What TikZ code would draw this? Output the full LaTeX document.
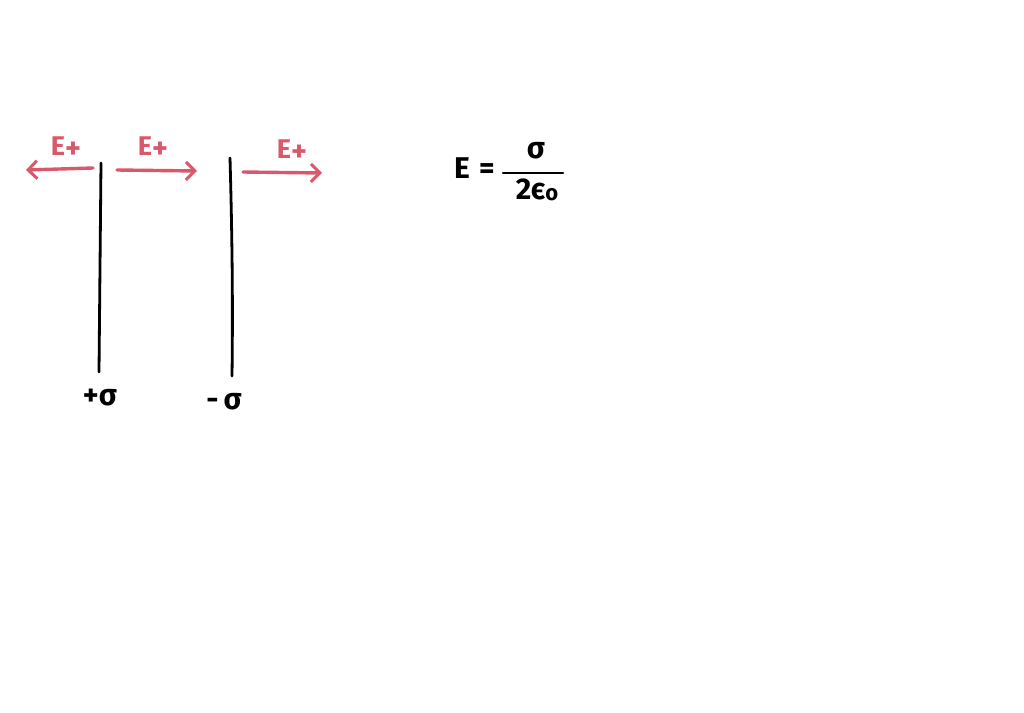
\documentclass[tikz,border=0pt]{standalone}
\usepackage{fontspec}
\setmainfont{Fira Sans}
\usetikzlibrary{arrows.meta}
\definecolor{fieldred}{RGB}{217,88,108}
\tikzset{
  plate/.style={line width=2.8pt, line cap=round, black},
  field/.style={line width=3.4pt, line cap=round, fieldred, -{Straight Barb[length=9pt,width=18pt,line width=3pt]}},
  flabel/.style={fieldred, font=\fontsize{27}{30}\selectfont\bfseries, inner sep=0pt},
  blabel/.style={black, font=\fontsize{30}{32}\selectfont\bfseries, inner sep=0pt}
}
\begin{document}
\begin{tikzpicture}[x=1pt,y=-1pt]
\useasboundingbox[fill=white] (0,0) rectangle (1024,712);
% plates
\coordinate (p1t) at (101,163); \coordinate (p1b) at (99,372);
\coordinate (p2t) at (230,158); \coordinate (p2b) at (232,376);
\draw[plate] (p1t) -- (p1b);
\draw[plate] (p2t) .. controls (232,230) and (233,300) .. (p2b);
% field arrows
\coordinate (a1s) at (93,168); \coordinate (a1e) at (26,170);
\coordinate (a2s) at (117,170); \coordinate (a2e) at (197,171);
\coordinate (a3s) at (243,172); \coordinate (a3e) at (322,173);
\draw[field] (a1s) -- (a1e);
\draw[field] (a2s) -- (a2e);
\draw[field] (a3s) -- (a3e);
\node[flabel] (l1) at (66,148) {E\raisebox{-0.12em}{\fontsize{30}{32}\selectfont +}};
\node[flabel] (l2) at (153,148) {E\raisebox{-0.12em}{\fontsize{30}{32}\selectfont +}};
\node[flabel] (l3) at (292,151) {E\raisebox{-0.12em}{\fontsize{30}{32}\selectfont +}};
% charge labels
\node[blabel] (q1) at (100,398) {+σ};
\node[blabel] (q2) at (224,402) {-\,σ};
% formula
\node[blabel] (fE) at (462,168) {E};
\node[blabel] (feq) at (487,171) {=};
\coordinate (fbl) at (503,173); \coordinate (fbr) at (563,173);
\draw[line width=2.6pt, line cap=round] (fbl) -- (fbr);
\node[blabel] (fnum) at (536,151) {σ};
\node[blabel] (fden) at (537,190) {2ϵ\raisebox{-0.05em}{\fontsize{22}{24}\selectfont o}};
\end{tikzpicture}
\end{document}
